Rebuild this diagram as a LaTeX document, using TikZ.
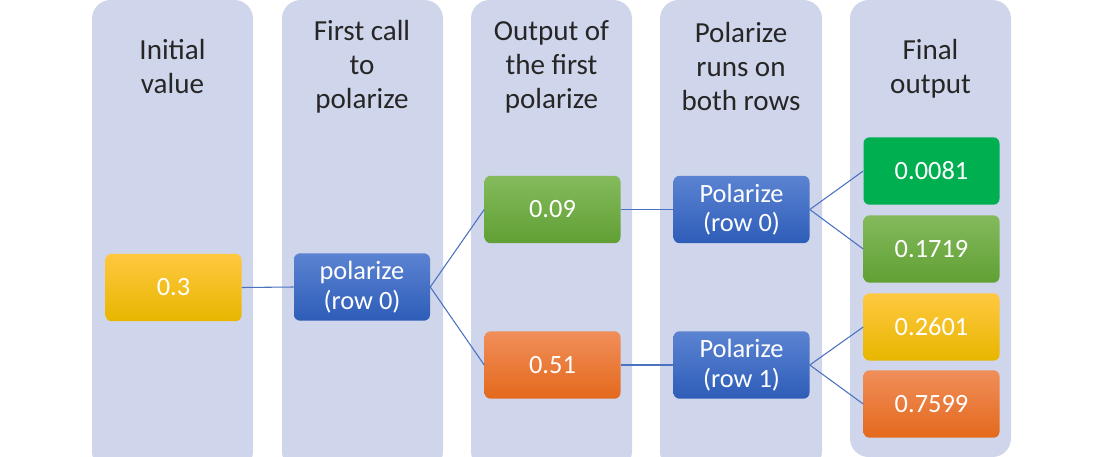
\documentclass[tikz,border=0pt]{standalone}
\usepackage{fontspec}
\setmainfont{Carlito}
\definecolor{colbg}{HTML}{CFD5EA}
\definecolor{linec}{HTML}{4A72C0}
\definecolor{yT}{HTML}{FFC840}\definecolor{yM}{HTML}{FFC000}\definecolor{yB}{HTML}{E8B600}
\definecolor{gT}{HTML}{84BA5C}\definecolor{gM}{HTML}{70AD47}\definecolor{gB}{HTML}{60A034}
\definecolor{oT}{HTML}{F08E5A}\definecolor{oM}{HTML}{F47C30}\definecolor{oB}{HTML}{E4691C}
\definecolor{bT}{HTML}{5B83D2}\definecolor{bM}{HTML}{4472C4}\definecolor{bB}{HTML}{2E5DB8}
\definecolor{dg}{HTML}{00B050}
\tikzset{
  colbox/.style={fill=colbg, draw=none, rounded corners=14pt},
  hdr/.style={align=center, text=black!85, font=\fontsize{21.8}{25.5}\selectfont},
  box/.style={minimum width=102pt, minimum height=50.5pt, rounded corners=4.5pt,
     text=white, align=center, inner sep=0pt, font=\fontsize{19.8}{22}\selectfont},
  ybox/.style={box, top color=yT, middle color=yM, bottom color=yB},
  gbox/.style={box, top color=gT, middle color=gM, bottom color=gB},
  obox/.style={box, top color=oT, middle color=oM, bottom color=oB},
  bbox/.style={box, top color=bT, middle color=bM, bottom color=bB},
  dbox/.style={box, fill=dg},
  conn/.style={draw=linec, line width=0.8pt}
}
\begin{document}
\begin{tikzpicture}[x=0.75pt, y=-0.75pt]
\useasboundingbox (0,0) rectangle (1104,457);
% columns
\path[colbox] (92,0) rectangle (253,470);
\path[colbox] (282,0) rectangle (443,470);
\path[colbox] (471,0) rectangle (632,470);
\path[colbox] (660,0) rectangle (822,470);
\path[colbox] (850,0) rectangle (1011,457);
% headers
\node[hdr] (h1) at (172.5,67) {Initial\\value};
\node[hdr] (h2) at (362,67) {First call\\to\\polarize};
\node[hdr] (h3) at (551.5,67) {Output of\\the first\\polarize};
\node[hdr] (h4) at (741,67) {Polarize\\runs on\\both rows};
\node[hdr] (h5) at (930.5,68.5) {Final\\output};
% boxes
\node[ybox] (v0) at (173.5,287.5) {0.3};
\node[bbox] (p0) at (362,287) {polarize\\(row 0)};
\node[gbox] (a) at (552.5,209.5) {0.09};
\node[obox] (b) at (552.5,365) {0.51};
\node[bbox] (q0) at (741.5,209.5) {Polarize\\(row 0)};
\node[bbox] (q1) at (741.5,365) {Polarize\\(row 1)};
\node[dbox] (f1) at (931.5,171) {0.0081};
\node[gbox] (f2) at (931.5,249) {0.1719};
\node[ybox] (f3) at (931.5,327) {0.2601};
\node[obox] (f4) at (931.5,404) {0.7599};
% connectors
\draw[conn] (v0.east) -- (p0.west);
\draw[conn] (p0.east) -- (a.west);
\draw[conn] (p0.east) -- (b.west);
\draw[conn] (a.east) -- (q0.west);
\draw[conn] (b.east) -- (q1.west);
\draw[conn] (q0.east) -- (f1.west);
\draw[conn] (q0.east) -- (f2.west);
\draw[conn] (q1.east) -- (f3.west);
\draw[conn] (q1.east) -- (f4.west);
\end{tikzpicture}
\end{document}
